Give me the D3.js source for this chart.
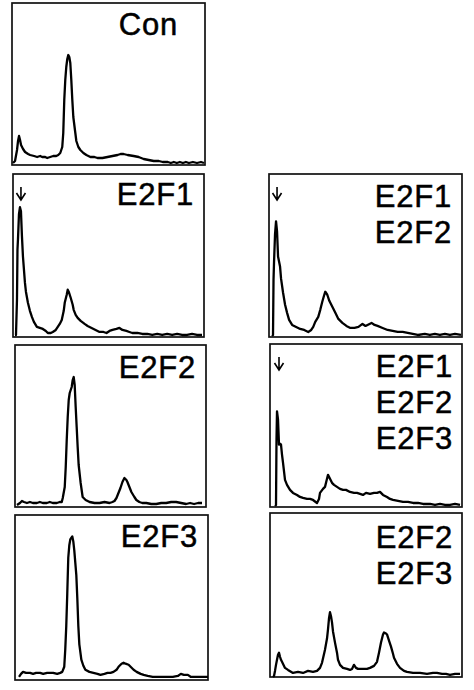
<!DOCTYPE html>
<meta charset="utf-8">
<style>
body { margin: 0; background: #fff; }
svg { display: block; }
.box { fill: none; stroke: #111; stroke-width: 1.7px; }
.trace { fill: none; stroke: #000; stroke-width: 2.3px; stroke-linejoin: round; }
.label { font-family: "Liberation Sans", Arial, sans-serif; font-size: 31px; letter-spacing: 0.8px; fill: #000; stroke: #000; stroke-width: 0.5px; }
.arrow { fill: none; stroke: #000; stroke-width: 1.6px; }
</style>
<body>
<script src="https://d3js.org/d3.v7.min.js"></script>
<script>
// DNA content histograms: [channel, cell count]
var conCurve = [[1,2],[3,4],[5,15],[6,24],[7,29],[8,25],[9,20],[11,16],[13,13],[16,11],[18,10],[22,9],[25,8],[28,9],[30,8],[33,8],[35,7],[38,8],[41,9],[44,9],[46,10],[48,12],[50,18],[51,32],[52,65],[53,85],[54,98],[55,106],[56,110],[57,108],[58,102],[59,85],[60,65],[61,48],[63,32],[64,24],[66,18],[68,15],[71,12],[74,10],[78,8],[82,8],[85,7],[90,7],[95,8],[100,9],[105,10],[108,11],[111,11],[115,10],[121,9],[126,8],[131,6],[136,5],[141,4],[146,4],[150,3],[155,3],[158,2],[161,3],[164,2],[167,3],[170,2],[173,3],[176,2],[180,3],[184,2],[188,3],[191,2]];

var e2f1Curve = [[2,2],[3,2],[4,37],[4.5,87],[5,97],[6,122],[7,129],[8,125],[9,100],[10,80],[12,54],[13,45],[15,34],[17,26],[19,20],[21,15],[24,10],[27,9],[30,8],[33,6],[35,4],[38,4],[40,5],[43,7],[45,10],[47,13],[49,17],[51,26],[52,34],[54,42],[55,47],[56,45],[58,39],[60,32],[61,27],[63,22],[65,19],[68,16],[72,13],[75,11],[79,9],[83,7],[87,5],[91,5],[94,4],[97,6],[100,7],[104,8],[107,9],[110,7],[114,6],[117,5],[120,4],[125,4],[130,3],[135,3],[140,2],[145,3],[150,2],[155,3],[160,2],[165,3],[170,2],[175,2],[180,3],[185,2],[190,2]];

var e2f1e2f2Curve = [[3,1],[4,2],[4.5,57],[5,74],[6,102],[7,115],[8,105],[9,80],[11,70],[12,58],[14,44],[16,32],[18,24],[20,17],[23,12],[27,10],[31,8],[35,7],[39,5],[42,7],[44,10],[46,15],[49,20],[51,27],[53,35],[55,42],[56,45],[58,42],[60,36],[61,34],[63,30],[66,24],[69,18],[73,14],[77,11],[81,9],[85,9],[89,10],[93,13],[96,11],[98,12],[102,14],[105,12],[108,11],[113,9],[118,7],[123,6],[128,5],[133,5],[138,4],[143,3],[148,2],[155,3],[160,2],[165,3],[170,2],[175,3],[180,2],[185,3],[191,2]];

var e2f2Curve = [[2,2],[5,4],[7,6],[9,5],[12,4],[15,5],[18,4],[22,4],[25,5],[28,4],[32,4],[35,5],[38,4],[42,4],[45,5],[47,5],[48,9],[50,20],[51,40],[52,67],[53,90],[54,107],[55,114],[57,120],[58,127],[59,130],[60,122],[61,100],[62,80],[63,60],[64,42],[66,24],[68,10],[71,7],[75,5],[80,4],[85,4],[90,5],[95,4],[98,5],[100,6],[102,9],[104,14],[106,19],[108,25],[110,29],[112,27],[113,25],[115,20],[117,15],[120,10],[122,7],[125,5],[128,4],[132,4],[137,3],[142,3],[147,4],[152,4],[157,5],[162,5],[167,4],[172,3],[176,4],[180,3],[184,4],[188,4]];

var e2f123Curve = [[5,1],[6,2],[6.5,67],[7,95],[8,87],[9,62],[10,63],[11,62],[12,52],[13,44],[15,27],[17,22],[20,17],[23,14],[27,12],[30,10],[33,9],[37,8],[40,8],[43,7],[47,4],[49,8],[50,14],[53,18],[55,20],[57,28],[58,32],[59,30],[62,24],[64,22],[67,20],[70,18],[73,17],[76,17],[80,15],[84,14],[87,14],[90,13],[93,12],[96,14],[100,13],[104,14],[107,14],[110,15],[113,12],[117,10],[120,8],[123,7],[128,6],[133,5],[138,5],[143,4],[148,4],[153,3],[160,3],[165,2],[170,3],[175,2],[180,2],[185,3],[190,2]];

var e2f3Curve = [[4,3],[6,6],[8,8],[11,7],[15,7],[18,6],[21,7],[25,7],[28,6],[32,7],[35,7],[38,7],[42,6],[45,7],[47,8],[49,13],[50,30],[51,53],[52,85],[53,120],[54,132],[55,138],[57,141],[58,136],[59,127],[60,115],[61,103],[62,80],[63,53],[64,35],[66,20],[68,14],[70,10],[74,8],[78,7],[82,6],[85,5],[89,6],[92,7],[95,7],[98,8],[101,10],[103,13],[106,16],[108,17],[110,16],[113,15],[116,12],[118,10],[121,8],[125,6],[128,5],[132,4],[137,3],[142,3],[147,3],[152,3],[157,3],[162,4],[165,6],[168,5],[172,5],[175,3],[180,3],[186,3],[192,3]];

var e2f2e2f3Curve = [[3,0],[4,1],[5,6],[6,12],[7,17],[8,22],[9,24],[10,20],[11,17],[12,15],[15,9],[18,7],[23,4],[28,5],[33,4],[38,6],[43,5],[47,6],[50,9],[52,14],[55,27],[57,38],[58,47],[59,58],[60,64],[61,60],[62,54],[63,45],[65,34],[67,24],[68,17],[70,12],[73,9],[77,8],[80,7],[82,8],[84,12],[86,9],[88,8],[93,8],[97,8],[100,9],[104,11],[107,15],[109,24],[111,34],[113,42],[114,44],[116,43],[117,42],[119,36],[121,30],[123,23],[124,19],[127,13],[130,9],[134,6],[137,5],[143,4],[150,4],[157,3],[163,4],[167,4],[172,3],[176,3],[180,2],[185,3],[190,3]];

var conLabels = ["Con"];
var e2f1Labels = ["E2F1"];
var e2f1e2f2Labels = ["E2F1", "E2F2"];
var e2f2Labels = ["E2F2"];
var e2f123Labels = ["E2F1", "E2F2", "E2F3"];
var e2f3Labels = ["E2F3"];
var e2f2e2f3Labels = ["E2F2", "E2F3"];

// channel of the sub-G1 arrow, null where there is none
var arrowChannels = [null, 8, 8, null, 9, null, null];

var channelMax = 192, countMax = 162;

// panel boxes on the page: [left, top, right, bottom], text right edge, first baseline
var panels = [
  {box: [12, 3, 205, 165],   textX: 178, textY: 35,  data: conCurve,      labels: conLabels},
  {box: [13, 174, 204, 337], textX: 194, textY: 205, data: e2f1Curve,     labels: e2f1Labels},
  {box: [269, 174, 462, 337],textX: 452, textY: 207, data: e2f1e2f2Curve, labels: e2f1e2f2Labels},
  {box: [15, 345, 206, 507], textX: 196, textY: 378, data: e2f2Curve,     labels: e2f2Labels},
  {box: [270, 344, 462, 507],textX: 453, textY: 377, data: e2f123Curve,   labels: e2f123Labels},
  {box: [15, 515, 208, 680], textX: 198, textY: 547, data: e2f3Curve,     labels: e2f3Labels},
  {box: [270, 513, 462, 677],textX: 453, textY: 548, data: e2f2e2f3Curve, labels: e2f2e2f3Labels}
];
var lineGap = 36;

var svg = d3.select("body").append("svg")
  .attr("width", 474)
  .attr("height", 690);

panels.forEach(function(p, i) {
  var b = p.box;
  var x = d3.scaleLinear().domain([0, channelMax]).range([b[0], b[2]]);
  var y = d3.scaleLinear().domain([0, countMax]).range([b[3], b[1]]);
  var g = svg.append("g");

  g.append("rect")
    .attr("class", "box")
    .attr("x", b[0]).attr("y", b[1])
    .attr("width", b[2] - b[0]).attr("height", b[3] - b[1]);

  g.append("path")
    .datum(p.data)
    .attr("class", "trace")
    .attr("d", d3.line()
      .x(function(d) { return x(d[0]); })
      .y(function(d) { return y(d[1]); }));

  g.selectAll("text")
    .data(p.labels)
    .enter().append("text")
      .attr("class", "label")
      .attr("text-anchor", "end")
      .attr("x", p.textX)
      .attr("y", function(d, j) { return p.textY + j * lineGap; })
      .text(function(d) { return d; });

  if (arrowChannels[i] !== null) {
    var ax = x(arrowChannels[i]), top = b[1] + 13, tip = b[1] + 26;
    g.append("path")
      .attr("class", "arrow")
      .attr("d", "M" + ax + "," + top + "V" + tip +
                 "M" + (ax - 4.5) + "," + (tip - 7) + "L" + ax + "," + tip + "L" + (ax + 4.5) + "," + (tip - 7));
  }
});
</script>
